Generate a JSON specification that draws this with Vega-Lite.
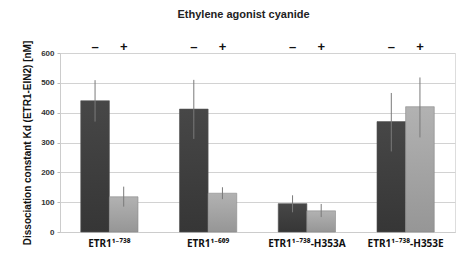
{
  "$schema": "https://vega.github.io/schema/vega-lite/v6.json",
  "width": 395,
  "height": 179,
  "autosize": {"type": "none"},
  "padding": {"left": 60, "top": 53, "right": 19, "bottom": 36},
  "background": "white",
  "title": {"text": "Ethylene agonist cyanide", "font": "Liberation Sans", "fontSize": 11, "fontWeight": "bold", "color": "#222222", "offset": 20, "dx": -14, "anchor": "middle"},
  "data": {"values": [
    {"construct": "ETR1¹⁻⁷³⁸", "treatment": "–", "kd": 440, "lower": 370, "upper": 509},
    {"construct": "ETR1¹⁻⁷³⁸", "treatment": "+", "kd": 118, "lower": 85, "upper": 152},
    {"construct": "ETR1¹⁻⁶⁰⁹", "treatment": "–", "kd": 412, "lower": 312, "upper": 510},
    {"construct": "ETR1¹⁻⁶⁰⁹", "treatment": "+", "kd": 130, "lower": 110, "upper": 150},
    {"construct": "ETR1¹⁻⁷³⁸-H353A", "treatment": "–", "kd": 95, "lower": 66, "upper": 123},
    {"construct": "ETR1¹⁻⁷³⁸-H353A", "treatment": "+", "kd": 71, "lower": 50, "upper": 94},
    {"construct": "ETR1¹⁻⁷³⁸-H353E", "treatment": "–", "kd": 370, "lower": 270, "upper": 466},
    {"construct": "ETR1¹⁻⁷³⁸-H353E", "treatment": "+", "kd": 420, "lower": 317, "upper": 518}
  ]},
  "encoding": {
    "x": {"field": "construct", "type": "nominal", "sort": null,
      "scale": {"paddingInner": 0.42, "paddingOuter": 0.21},
      "axis": {"title": null, "labelAngle": 0, "ticks": false, "labelFont": "Noto Sans", "labelFontSize": 10, "labelFontWeight": "bold", "labelColor": "#111111", "labelPadding": 6, "domainColor": "#cccccc", "grid": false, "labelOverlap": false}},
    "xOffset": {"field": "treatment", "type": "nominal", "scale": {"domain": ["–", "+"], "paddingInner": 0, "paddingOuter": 0}},
    "y": {"field": "kd", "type": "quantitative",
      "scale": {"domain": [0, 600], "nice": false},
      "axis": {"title": "Dissociation constant Kd (ETR1-EIN2) [nM]", "titleFont": "Liberation Sans", "titleFontSize": 10, "titleFontWeight": "bold", "titleColor": "#111111",
        "titleX": -33, "titleY": 89.5, "titleAngle": -90, "titleAlign": "center", "titleBaseline": "middle",
        "values": [0, 100, 200, 300, 400, 500, 600], "labelOverlap": false, "labelFont": "Liberation Sans", "labelFontSize": 8, "labelFontWeight": "bold", "labelColor": "#333333", "labelPadding": 3,
        "tickSize": 3, "tickColor": "#bbbbbb", "domainColor": "#cccccc", "gridColor": "#d2d2d2", "grid": true}}
  },
  "layer": [
    {
      "transform": [{"filter": "datum.treatment === '–'"}],
      "mark": {"type": "bar", "color": {"gradient": "linear", "x1": 0, "y1": 0, "x2": 0, "y2": 1, "stops": [{"offset": 0, "color": "#474747"}, {"offset": 1, "color": "#363636"}]}, "stroke": "#555555", "strokeWidth": 0.6}
    },
    {
      "transform": [{"filter": "datum.treatment === '+'"}],
      "mark": {"type": "bar", "color": {"gradient": "linear", "x1": 0, "y1": 0, "x2": 0, "y2": 1, "stops": [{"offset": 0, "color": "#b2b2b2"}, {"offset": 1, "color": "#969696"}]}, "stroke": "#8a8a8a", "strokeWidth": 0.6}
    },
    {
      "mark": {"type": "rule", "color": "#7a7a7a", "strokeWidth": 1},
      "encoding": {"y": {"field": "lower", "type": "quantitative"}, "y2": {"field": "upper"}}
    },
    {
      "mark": {"type": "text", "font": "Liberation Sans", "fontSize": 13, "fontWeight": "bold", "color": "#111111", "baseline": "middle"},
      "encoding": {"y": {"datum": 620, "type": "quantitative"}, "text": {"field": "treatment"}}
    }
  ]
}
